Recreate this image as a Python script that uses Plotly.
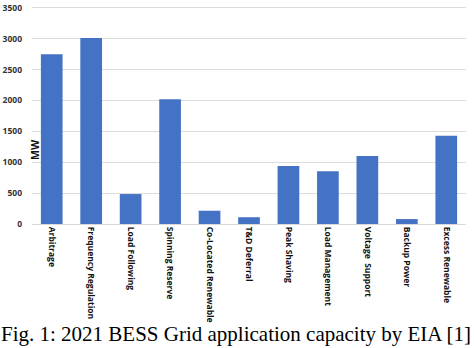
import plotly.graph_objects as go

categories = ["Arbitrage", "Frequency Regulation", "Load Following", "Spinning Reserve",
              "Co-Located Renewable", "T&D Deferral", "Peak Shaving", "Load Management",
              "Voltage  Support", "Backup Power", "Excess Renewable"]
values_mw = [2750, 3010, 485, 2020, 215, 110, 940, 855, 1100, 80, 1430]
y_ticks = [0, 500, 1000, 1500, 2000, 2500, 3000, 3500]
caption = "Fig. 1: 2021 BESS Grid application capacity by EIA [1]"

fig = go.Figure(go.Bar(x=categories, y=values_mw, marker_color="#4472C4", marker_line_width=0))

fig.update_layout(
    width=474, height=348,
    margin=dict(l=32, r=8, t=2, b=124),
    plot_bgcolor="white", paper_bgcolor="white",
    bargap=0.45, showlegend=False,
    font=dict(family="Open Sans", color="#222222"),
)
fig.update_xaxes(tickangle=90, tickfont=dict(family="Open Sans", size=8.5, color="#111111", weight="bold"),
                 showgrid=False, showline=True, linecolor="#d9d9d9", ticks="", ticklen=0)
fig.update_yaxes(range=[0, 3530], tickvals=y_ticks, showgrid=True, gridcolor="#dcdcdc",
                 tickfont=dict(family="Open Sans", size=8.5, color="#333333", weight="bold"), zeroline=False,
                 ticks="", ticklabelstandoff=9, ticklabeloverflow="allow")
fig.add_annotation(text="<b>MW</b>", x=0, xref="paper", xanchor="left", xshift=-6, y=1200, yref="y",
                   textangle=-90, showarrow=False, font=dict(family="Open Sans", size=10.5, color="#111111"))
fig.add_annotation(text=caption, x=0.5, xref="paper", xanchor="center", xshift=-13,
                   y=0, yref="paper", yanchor="top", yshift=-96, showarrow=False,
                   font=dict(family="Liberation Serif", size=21, color="#000000"))
fig.write_html("out.html")
